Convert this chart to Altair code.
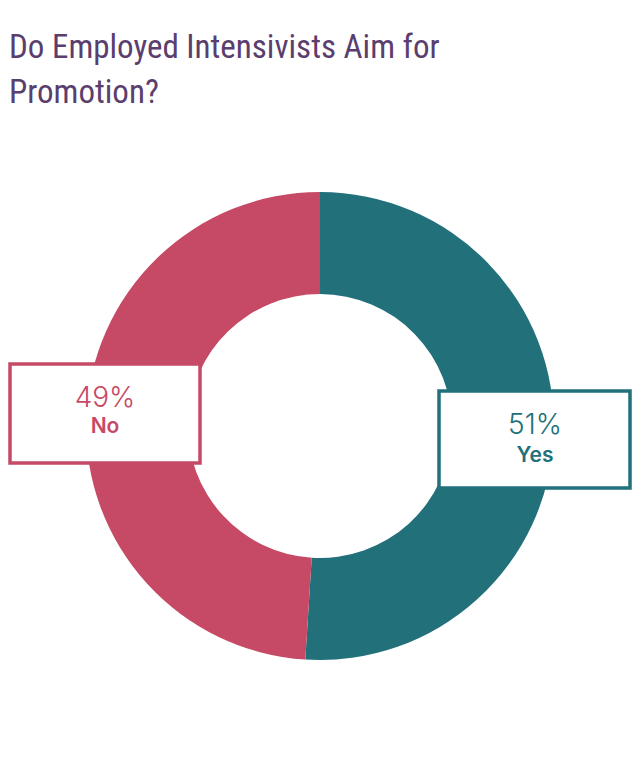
import altair as alt
import pandas as pd

# ---- data ----
categories = ["Yes", "No"]
shares = [51, 49]
order_idx = [0, 1]
colors = ["#21707A", "#C64A66"]
title_lines = ["Do Employed Intensivists Aim for", "Promotion?"]

df = pd.DataFrame({"answer": categories, "share": shares, "order": order_idx})

TITLE_COLOR = "#5A3E6E"
OX, OY = 16, 8  # page offset of plot origin (page margin + padding)


def px(v):
    return v - OX


def py(v):
    return v - OY


color_scale = alt.Scale(domain=categories, range=colors)

base = alt.Chart(df)

donut = base.mark_arc(innerRadius=132, outerRadius=234, stroke=None).encode(
    theta=alt.Theta("share:Q", stack=True),
    order=alt.Order("order:Q"),
    color=alt.Color("answer:N", scale=color_scale, legend=None),
    x=alt.value(px(320)),
    y=alt.value(py(426)),
)


def label_layer(cat, color, box, pct_xy, cat_xy):
    sub = base.transform_filter(alt.datum.answer == cat)
    x1, y1, x2, y2 = box
    rect = sub.mark_rect(fill="white", stroke=color, strokeWidth=3.5).encode(
        x=alt.value(px(x1)), x2=alt.value(px(x2)),
        y=alt.value(py(y1)), y2=alt.value(py(y2)),
    )
    pct = sub.transform_calculate(lab="datum.share + '%'").mark_text(
        font="Inter", fontSize=28, fontWeight=300, color=color,
        align="center", baseline="alphabetic",
    ).encode(text="lab:N", x=alt.value(px(pct_xy[0])), y=alt.value(py(pct_xy[1])))
    name = sub.mark_text(
        font="Inter", fontSize=21, fontWeight=600, color=color,
        align="center", baseline="alphabetic",
    ).encode(text="answer:N", x=alt.value(px(cat_xy[0])), y=alt.value(py(cat_xy[1])))
    return rect + pct + name


no_layer = label_layer("No", colors[1], (10, 364, 200, 463), (105, 407), (105, 433))
yes_layer = label_layer("Yes", colors[0], (439, 391, 630, 488), (535, 434), (535, 462))

title_df = pd.DataFrame({"t": [title_lines]})
title = alt.Chart(title_df).mark_text(
    font="Roboto Condensed, Liberation Sans Narrow, DejaVu Sans Condensed, Roboto",
    fontSize=33, color=TITLE_COLOR, align="left", baseline="alphabetic",
    lineHeight=45,
).encode(text="t", x=alt.value(px(9)), y=alt.value(py(58)))

chart = (donut + no_layer + yes_layer + title).properties(
    width=616,
    height=737,
    padding={"left": 8, "top": 0, "right": 0, "bottom": 0},
    autosize="none",
).configure_view(stroke=None)

chart.save("out.html", embed_options={"renderer": "svg", "actions": False})
